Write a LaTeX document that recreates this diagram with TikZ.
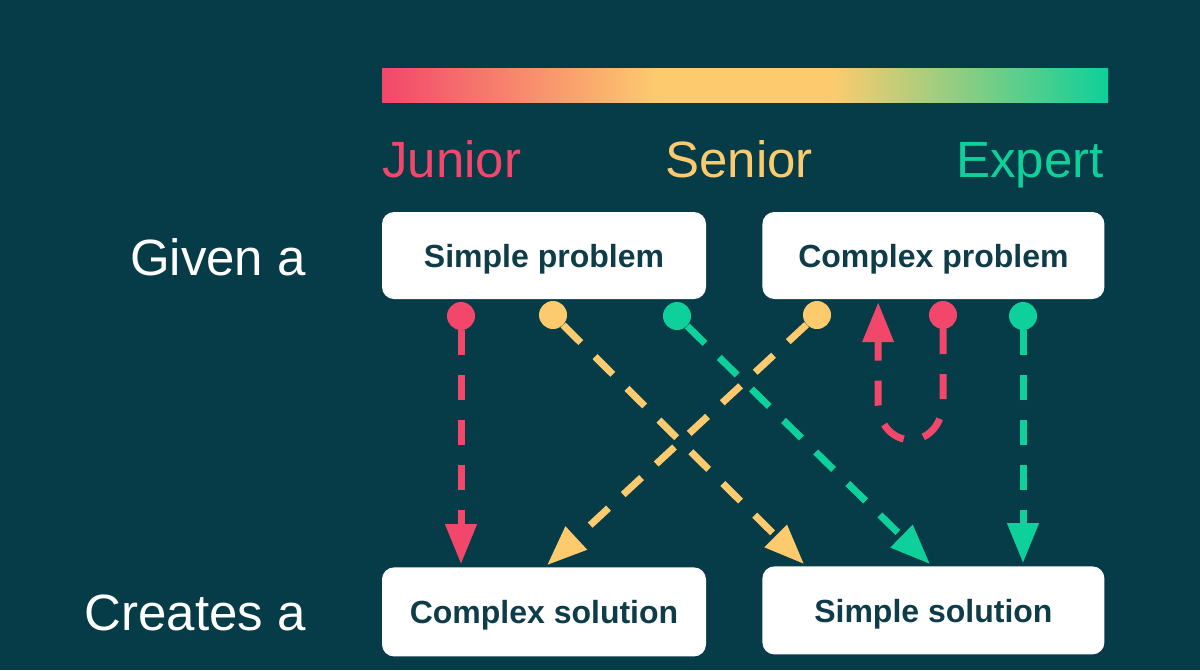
\documentclass[tikz,border=0pt]{standalone}
\usepackage{fontspec}
\setmainfont{Liberation Sans}
\usetikzlibrary{positioning,arrows.meta,calc}
\definecolor{bg}{HTML}{053C48}
\definecolor{junior}{HTML}{F2476B}
\definecolor{senior}{HTML}{FDCB6E}
\definecolor{expert}{HTML}{0DD09A}
\definecolor{boxtext}{HTML}{0F3C49}
\pgfdeclarehorizontalshading{skillbar}{100bp}{color(0bp)=(junior); color(25bp)=(junior);
  color(44bp)=(senior); color(56bp)=(senior); color(75bp)=(expert); color(100bp)=(expert)}

\begin{document}
\begin{tikzpicture}[x=1pt,y=-1pt,
  tier/.style={font=\fontsize{51}{51}\selectfont,inner sep=0pt},
  card/.style={fill=white,rounded corners=12pt,minimum width=324pt,minimum height=87pt,
               inner sep=0pt,text height=30pt,text depth=6pt,text=boxtext,
               font=\fontsize{32}{32}\selectfont\bfseries},
  knob/.style={circle,fill=#1,inner sep=0pt,minimum size=28pt},
  flow/.style={draw=#1,line width=7pt,dash pattern=on 25pt off 20pt,shorten >=3pt,
               -{Triangle[length=40pt,width=30pt,fill=#1]}}]
\useasboundingbox (0,0) rectangle (1200,670);
\fill[bg] (0,0) rectangle (1200,670);
\shade[shading=skillbar] (382,68) rectangle (1108,102);
\node[tier,text=junior,anchor=base west] (jr) at (382,177) {Junior};
\node[tier,text=senior,anchor=base] (sr) at (739,177) {Senior};
\node[tier,text=expert,anchor=base east] (ex) at (1104,177) {Expert};
\node[tier,text=white,anchor=base east] (given) at (306,275) {Given a};
\node[tier,text=white,anchor=base east] (creates) at (306,630) {Creates a};
\node[card] (sp) at (544,255.5) {Simple problem};
\node[card,minimum width=342pt,right=56pt of sp] (cp) {Complex problem};
\node[card,minimum height=89pt,below=268pt of sp] (cs) {Complex solution};
\node[card,minimum width=342pt,minimum height=88pt,below=267pt of cp] (ss) {Simple solution};
\node[knob=junior] (spj) at (461,316) {};
\node[knob=senior] (sps) at (553,315) {};
\node[knob=expert] (spe) at (677,316) {};
\node[knob=senior] (cps) at (817,315) {};
\node[knob=junior] (cpj) at (943,315) {};
\node[knob=expert] (cpe) at (1023,316) {};
\draw[flow=junior] (spj) -- (spj |- cs.north);
\draw[flow=senior] (sps) -- ([xshift=44pt]ss.north west);
\draw[flow=expert] (spe) -- ([xshift=170pt]ss.north west);
\draw[flow=senior] (cps) -- ([xshift=163pt]cs.north west);
\draw[flow=junior] (cpj) -- ++(0,85) .. controls +(0,53) and +(0,53) .. ++(-65,0)
  -- ([xshift=116pt]cp.south west);
\draw[flow=expert] (cpe) -- (cpe |- ss.north);
\end{tikzpicture}
\end{document}
